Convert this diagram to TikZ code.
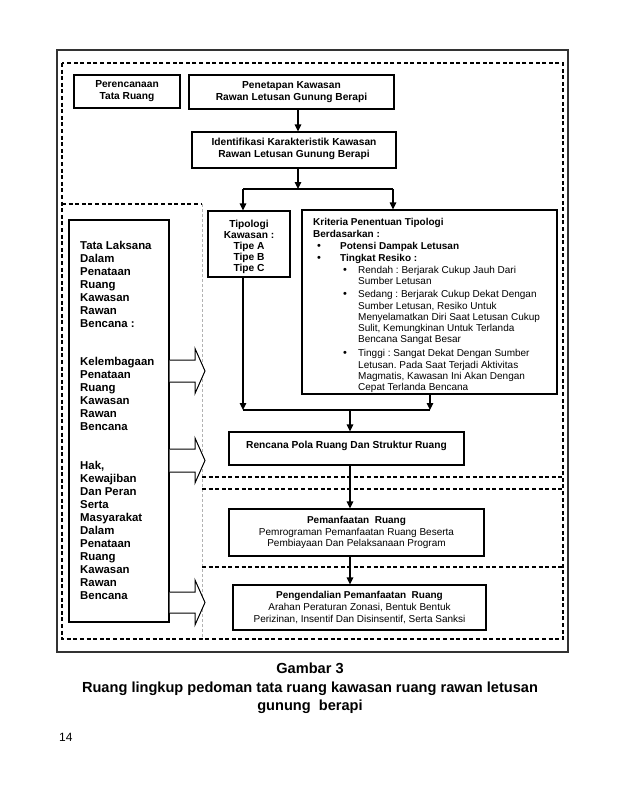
\documentclass[tikz,border=0pt]{standalone}
\usepackage{fontspec}
\setmainfont{Liberation Sans}
\usetikzlibrary{arrows.meta,calc}
\begin{document}
\frenchspacing
\begin{tikzpicture}[x=1pt,y=-1pt]
\tikzset{
  box/.style={draw, line width=1.2pt, inner sep=0pt},
  txt/.style={font=\fontsize{10.2}{12}\selectfont\bfseries, align=center},
  ntxt/.style={font=\fontsize{10}{11.8}\selectfont, align=center},
  kt/.style={font=\fontsize{10}{12}\selectfont, inner sep=0pt, anchor=base west},
  ktb/.style={kt, font=\fontsize{10}{12}\selectfont\bfseries},
  bul/.style={font=\fontsize{11}{12}\selectfont, inner sep=0pt, anchor=base},
  tt/.style={font=\fontsize{11.4}{13}\selectfont\bfseries, align=left, inner sep=0pt, anchor=north west},
  arr/.style={line width=1.2pt, -{Triangle[length=7pt,width=6.5pt]}},
  ln/.style={line width=1.2pt},
  dsh/.style={line width=1.2pt, dash pattern=on 4pt off 2.6pt},
  gdsh/.style={gray!60, line width=0.7pt, dash pattern=on 3pt off 2pt},
  blk/.style={line width=1pt, fill=white, line join=miter},
  frame/.style={draw=black!80, line width=1.4pt}
}
\useasboundingbox (0,0) rectangle (638,788);
\fill[white] (0,0) rectangle (638,788);

% frame and dashed regions
\draw[frame] (57,50) rectangle (568,652);
\draw[dsh] (62,63) rectangle (563,639);
\draw[dsh] (62,204) -- (202,204);
\draw[gdsh] (202,204) -- (202,639);
\draw[dsh] (202,477) -- (563,477);
\draw[dsh] (202,489) -- (563,489);
\draw[dsh] (202,567) -- (563,567);

% boxes
\node[box, txt, minimum width=106, minimum height=33] (perenc) at (127,91.5) {Perencanaan\\Tata Ruang};
\node[box, txt, minimum width=205, minimum height=34] (penet) at (291.5,92) {Penetapan Kawasan\\Rawan Letusan Gunung Berapi};
\node[box, txt, minimum width=204, minimum height=36, text depth=4pt] (ident) at (294,150) {Identifikasi Karakteristik Kawasan\\Rawan Letusan Gunung Berapi};
\node[box, txt, font=\fontsize{10.2}{11.2}\selectfont\bfseries, minimum width=82, minimum height=66, text height=58pt] (tipo) at (249,244) {Tipologi\\Kawasan :\\Tipe A\\Tipe B\\Tipe C};
\node[box, minimum width=255, minimum height=184] (krit) at (429.5,302) {};
\node[box, minimum width=100, minimum height=402] (tata) at (119,421) {};
\node[box, txt, minimum width=235, minimum height=33, text depth=8pt] (renc) at (346.5,448.5) {Rencana Pola Ruang Dan Struktur Ruang};
\node[box, ntxt, minimum width=255, minimum height=47] (peman) at (356.5,532.5) {\textbf{Pemanfaatan\ \ Ruang}\\Pemrograman Pemanfaatan Ruang Beserta\\Pembiayaan Dan Pelaksanaan Program};
\node[box, ntxt, minimum width=253, minimum height=45] (penge) at (359.5,607.5) {\textbf{Pengendalian Pemanfaatan\ \ Ruang}\\Arahan Peraturan Zonasi, Bentuk Bentuk\\Perizinan, Insentif Dan Disinsentif, Serta Sanksi};

% Kriteria text
\node[ktb] (k1) at (313,225) {Kriteria Penentuan Tipologi};
\node[ktb] (k2) at (313,237) {Berdasarkan :};
\node[bul] (b1) at (319,249) {\textbullet};
\node[ktb] (k3) at (340,249) {Potensi Dampak Letusan};
\node[bul] (b2) at (319,261) {\textbullet};
\node[ktb] (k4) at (340,261) {Tingkat Resiko :};
\node[bul] (b3) at (345,273.8) {\textbullet};
\node[bul] (b4) at (345,297.8) {\textbullet};
\node[bul] (b5) at (345,356.8) {\textbullet};
\foreach \yy/\tx [count=\i] in {273.8/{Rendah : Berjarak Cukup Jauh Dari}, 284.8/{Sumber Letusan},
  297.8/{Sedang : Berjarak Cukup Dekat Dengan}, 309.2/{Sumber Letusan, Resiko Untuk},
  320.5/{Menyelamatkan Diri Saat Letusan Cukup}, 331.7/{Sulit, Kemungkinan Untuk Terlanda},
  342.9/{Bencana Sangat Besar}, 356.8/{Tinggi : Sangat Dekat Dengan Sumber},
  368/{Letusan. Pada Saat Terjadi Aktivitas}, 379.3/{Magmatis, Kawasan Ini Akan Dengan},
  390.5/{Cepat Terlanda Bencana}}
  \node[kt] (kr\i) at (358,\yy) {\tx};

% Tata Laksana text
\node[tt] (t1) at (80,241) {Tata Laksana\\Dalam\\Penataan\\Ruang\\Kawasan\\Rawan\\Bencana :};
\node[tt] (t2) at (80,357) {Kelembagaan\\Penataan\\Ruang\\Kawasan\\Rawan\\Bencana};
\node[tt] (t3) at (80,461) {Hak,\\Kewajiban\\Dan Peran\\Serta\\Masyarakat\\Dalam\\Penataan\\Ruang\\Kawasan\\Rawan\\Bencana};

% connectors
\coordinate (c1) at (298,189);
\coordinate (jl) at (243,189);
\coordinate (jr) at (393,189);
\coordinate (hl) at (243,410);
\coordinate (hr) at (430,410);
\coordinate (hm) at (350,410);
\draw[arr] (penet.south -| c1) -- (ident.north -| c1);
\draw[arr] (ident.south -| c1) -- (c1);
\draw[ln] (jl) -- (jr);
\draw[arr] (jl) -- (tipo.north -| jl);
\draw[arr] (jr) -- (krit.north -| jr);
\draw[arr] (tipo.south -| hl) -- (hl);
\draw[arr] (krit.south -| hr) -- (hr);
\draw[ln] (hl) -- (hr);
\draw[arr] (hm) -- (renc.north -| hm);
\draw[arr] (renc.south -| hm) -- (peman.north -| hm);
\draw[arr] (peman.south -| hm) -- (penge.north -| hm);

% block arrows
\foreach \cy/\sh in {371/11, 460.5/11.5, 602.5/10.5}{
  \draw[blk] (tata.east |- 0,\cy-\sh) -- (195,\cy-\sh) -- (195,\cy-22.5) -- (205,\cy)
     -- (195,\cy+22.5) -- (195,\cy+\sh) -- (tata.east |- 0,\cy+\sh);
}

% caption
\node[font=\fontsize{14.6}{18.5}\selectfont\bfseries, align=center] (cap) at (310,688.5)
  {Gambar 3\\Ruang lingkup pedoman tata ruang kawasan ruang rawan letusan\\gunung\ \ berapi};
\node[font=\fontsize{12}{14}\selectfont, anchor=west, inner sep=0pt] (pg) at (59,737) {14};
\end{tikzpicture}
\end{document}
